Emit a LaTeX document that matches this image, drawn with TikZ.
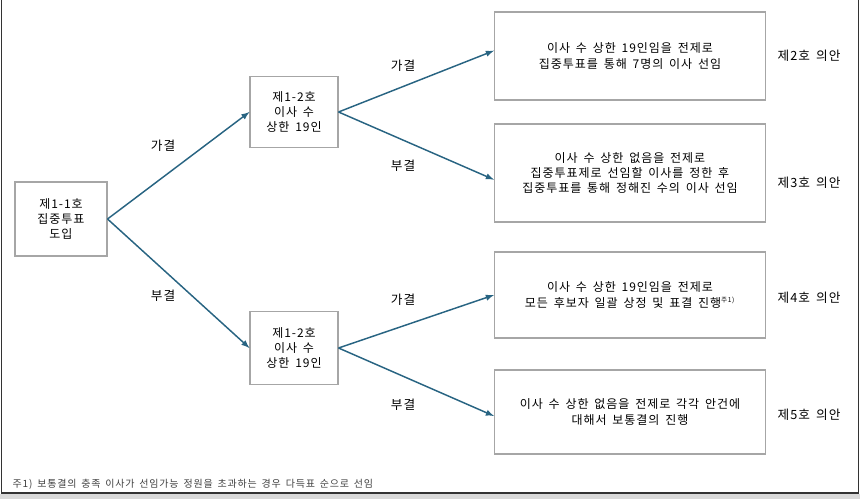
\documentclass[tikz,border=0pt]{standalone}
\usepackage{fontspec}
\setmainfont{Noto Sans CJK KR}[LetterSpace=8,WordSpace=1.6]
\definecolor{arrc}{RGB}{40,100,130}
\begin{document}
\begin{tikzpicture}[x=0.75pt,y=-0.75pt,
  box/.style={draw=black!35,line width=0.8pt,inner sep=0pt,align=center,font=\fontsize{9}{11.5}\selectfont},
  arr/.style={draw=arrc,line width=1.1pt,-latex},
  lab/.style={font=\fontsize{9.5}{11}\selectfont},
  plan/.style={font=\fontsize{9.5}{11}\selectfont}]
\useasboundingbox (0,0) rectangle (860,499);
\draw[black!80,line width=1.2pt] (1.5,0) -- (1.5,493) -- (858.5,493) -- (858.5,0);
\fill[black!15] (0,494) rectangle (860,499);
\node[box,minimum width=92*0.75pt,minimum height=74*0.75pt] (a) at (61,219) {제1-1호\\집중투표\\도입};
\node[box,minimum width=88*0.75pt,minimum height=71*0.75pt] (b1) at (294,112) {제1-2호\\이사 수\\상한 19인};
\node[box,minimum width=88*0.75pt,minimum height=73*0.75pt] (b2) at (294,348) {제1-2호\\이사 수\\상한 19인};
\node[box,minimum width=271*0.75pt,minimum height=88*0.75pt] (c1) at (630,56) {이사 수 상한 19인임을 전제로\\집중투표를 통해 7명의 이사 선임};
\node[box,minimum width=271*0.75pt,minimum height=98*0.75pt] (c2) at (630,173) {이사 수 상한 없음을 전제로\\집중투표제로 선임할 이사를 정한 후\\집중투표를 통해 정해진 수의 이사 선임};
\node[box,minimum width=271*0.75pt,minimum height=86*0.75pt] (c3) at (630,295) {이사 수 상한 19인임을 전제로\\모든 후보자 일괄 상정 및 표결 진행\textsuperscript{\fontsize{5}{6}\selectfont 주1)}};
\node[box,minimum width=271*0.75pt,minimum height=84*0.75pt] (c4) at (630,412) {이사 수 상한 없음을 전제로 각각 안건에\\대해서 보통결의 진행};
\node[plan] (p2) at (809,56) {제2호 의안};
\node[plan] (p3) at (809,183) {제3호 의안};
\node[plan] (p4) at (809,298) {제4호 의안};
\node[plan] (p5) at (809,415) {제5호 의안};
\draw[arr] (a.east) -- (b1.west);
\draw[arr] (a.east) -- (b2.west);
\draw[arr] (b1.east) -- ([yshift=4]c1.west);
\draw[arr] (b1.east) -- ([yshift=-5]c2.west);
\draw[arr] (b2.east) -- ([yshift=0]c3.west);
\draw[arr] (b2.east) -- ([yshift=-3]c4.west);
\node[lab] (l1) at (163,146) {가결};
\node[lab] (l2) at (163,296) {부결};
\node[lab] (l3) at (403,66) {가결};
\node[lab] (l4) at (403,166) {부결};
\node[lab] (l5) at (403,300) {가결};
\node[lab] (l6) at (403,405) {부결};
\node[anchor=west,font=\fontsize{7.5}{8}\selectfont,text=black!75] (fn) at (8,484) {주1) 보통결의 충족 이사가 선임가능 정원을 초과하는 경우 다득표 순으로 선임};
\end{tikzpicture}
\end{document}
